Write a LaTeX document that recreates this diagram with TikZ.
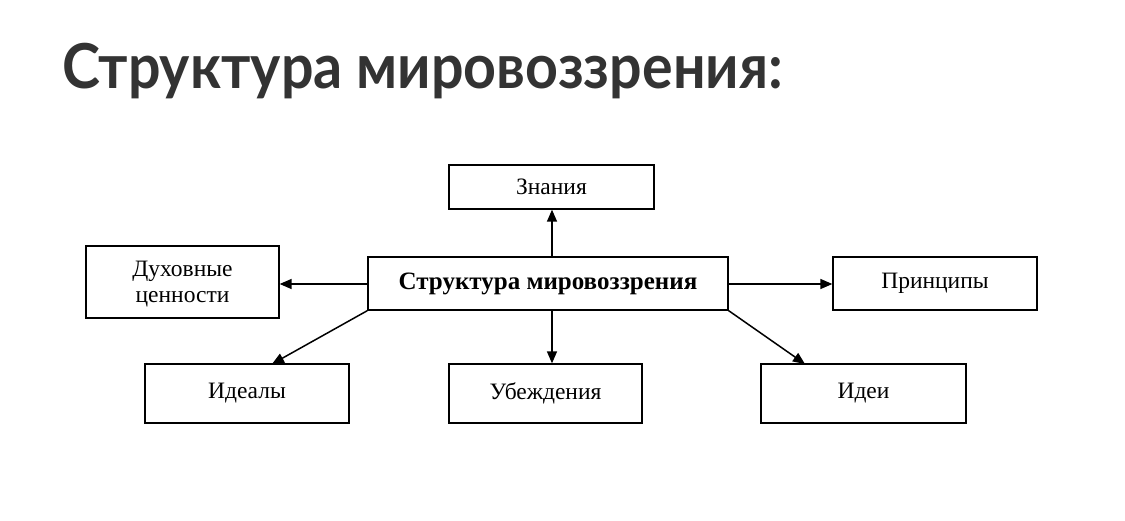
\documentclass[tikz,border=0pt]{standalone}
\usepackage{fontspec}
\setmainfont{Liberation Serif}
\newfontfamily\titlefont{Lato}
\usetikzlibrary{arrows.meta}
\definecolor{titlegray}{HTML}{333333}
\begin{document}
\begin{tikzpicture}[x=1pt,y=-1pt,
  box/.style={draw,line width=1.3pt,inner sep=0,font=\fontsize{23.5}{26}\selectfont,align=center},
  link/.style={line width=1.5pt,-{Triangle[length=12pt,width=10pt]}}]
\useasboundingbox (0,0) rectangle (1125,520);
\node[anchor=base west,text=titlegray,font=\titlefont\bfseries\fontsize{62}{70}\selectfont,inner sep=0] (title) at (62,88) {\scalebox{0.925}[1]{Структура мировоззрения:}};
\node[box,minimum width=205,minimum height=44] (zn) at (551.5,187) {Знания};
\node[box,minimum width=193,minimum height=72,text depth=0pt] (dc) at (182.5,282) {Духовные\\ценности};
\node[box,minimum width=360,minimum height=53,font=\fontsize{25}{25}\selectfont\bfseries] (c) at (548,283.5) {Структура мировоззрения};
\node[box,minimum width=204,minimum height=53] (pr) at (935,283.5) {Принципы};
\node[box,minimum width=204,minimum height=59] (id) at (247,393.5) {Идеалы};
\node[box,minimum width=193,minimum height=59] (ub) at (545.5,393.5) {Убеждения};
\node[box,minimum width=205,minimum height=59] (ie) at (863.5,393.5) {Идеи};
\coordinate (ctop) at (552,257);
\coordinate (cbot) at (552,310);
\coordinate (cl) at (368,284);
\coordinate (cr) at (728,284);
\coordinate (idt) at (272,364);
\coordinate (iet) at (805,364);
\draw[link] (ctop) -- (ctop |- zn.south);
\draw[link] (cl) -- (cl -| dc.east);
\draw[link] (cr) -- (cr -| pr.west);
\draw[link] (cbot) -- (cbot |- ub.north);
\draw[link] (c.south west) -- (idt);
\draw[link] (c.south east) -- (iet);
\end{tikzpicture}
\end{document}
